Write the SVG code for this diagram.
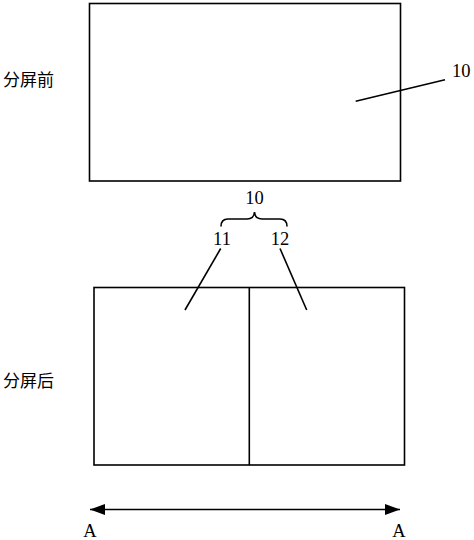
<svg xmlns="http://www.w3.org/2000/svg" width="474" height="540" viewBox="0 0 474 540">
<style>
.box{fill:none;stroke:#000;stroke-width:1.6}
.ln{fill:none;stroke:#000;stroke-width:1.6}
.num{font-family:"Liberation Serif","DejaVu Serif",serif;font-size:18.5px;fill:#000}
.cjk{font-family:"Noto Sans CJK SC",sans-serif;font-size:17px;fill:#000}
</style>
<defs>
<marker id="ah" markerWidth="16" markerHeight="12" refX="15" refY="5.5" orient="auto-start-reverse" markerUnits="userSpaceOnUse">
<path d="M0,0 L15,5.5 L0,11 Z" fill="#000"/>
</marker>
</defs>
<rect width="474" height="540" fill="#fff"/>
<g id="before">
<rect class="box" x="89.5" y="3.5" width="311" height="177.5"/>
<text class="cjk" x="3" y="86">分屏前</text>
</g>
<g id="label10top">
<text class="num" x="452" y="77">10</text>
</g>
<g id="after">
<rect class="box" x="94" y="287.5" width="310.5" height="177.5"/>
<line class="ln" x1="249.3" y1="287.5" x2="249.3" y2="465"/>
<text class="cjk" x="3" y="387">分屏后</text>
</g>
<g id="brace">
<path class="ln" d="M221,226.5 Q221,219 228,219 L247,219 Q254,219 254.5,212 Q255,219 262,219 L280,219 Q287,219 287,226.5"/>
<text class="num" x="254.5" y="204" text-anchor="middle">10</text>
<text class="num" x="222" y="245" text-anchor="middle">11</text>
<text class="num" x="280" y="245" text-anchor="middle">12</text>
</g>
<g id="axis">
<text class="num" x="90" y="537" text-anchor="middle">A</text>
<text class="num" x="399" y="537" text-anchor="middle">A</text>
</g>
<g id="connectors">
<line class="ln" x1="355.7" y1="101.3" x2="445" y2="79.7"/>
<line class="ln" x1="220.7" y1="248.5" x2="185" y2="310"/>
<line class="ln" x1="280" y1="248.5" x2="306.7" y2="310"/>
<line class="ln" x1="90" y1="509.5" x2="400" y2="509.5" marker-start="url(#ah)" marker-end="url(#ah)"/>
</g>
</svg>
